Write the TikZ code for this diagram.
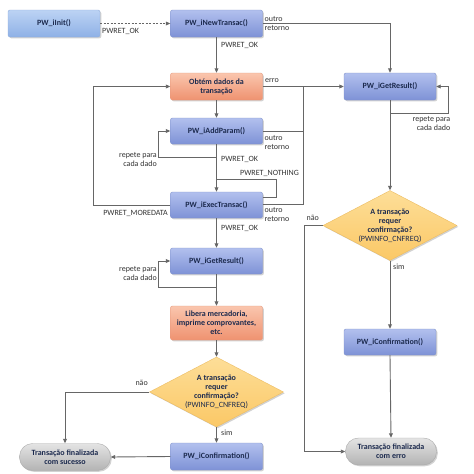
\documentclass[tikz,border=0pt]{standalone}
\usepackage{fontspec}
\setmainfont{Carlito}
\usetikzlibrary{shapes.geometric,arrows.meta,shadows}
\definecolor{navy}{HTML}{1C2A4E}
\definecolor{labc}{HTML}{333333}
\definecolor{linec}{HTML}{666666}
\definecolor{blueT}{HTML}{B2C0EE}
\definecolor{blueB}{HTML}{7E92D6}
\definecolor{blueD}{HTML}{8193CC}
\definecolor{lblueT}{HTML}{BCD3F4}
\definecolor{lblueB}{HTML}{8FB1E6}
\definecolor{lblueD}{HTML}{90AEDD}
\definecolor{orT}{HTML}{FAC6AE}
\definecolor{orB}{HTML}{EF9270}
\definecolor{orD}{HTML}{E79A7E}
\definecolor{diaT}{HTML}{FDDE98}
\definecolor{diaB}{HTML}{FBC866}
\definecolor{diaD}{HTML}{EDBD62}
\definecolor{grT}{HTML}{E4E4E4}
\definecolor{grB}{HTML}{B3B3B3}
\definecolor{grD}{HTML}{AAAAAA}
\begin{document}
\begin{tikzpicture}[x=1pt,y=-1pt,
  shad/.style={drop shadow={opacity=0.35,shadow xshift=1.3pt,shadow yshift=-1.3pt}},
  box/.style={rectangle,rounded corners=2pt,minimum width=92pt,minimum height=27pt,inner sep=1pt,
    align=center,font=\fontsize{8}{9}\selectfont\bfseries,text=navy,line width=0.4pt,shad},
  bluebox/.style={box,top color=blueT,bottom color=blueB,draw=blueD},
  lbluebox/.style={box,top color=lblueT,bottom color=lblueB,draw=lblueD},
  orbox/.style={box,top color=orT,bottom color=orB,draw=orD},
  term/.style={box,rounded corners=13pt,minimum width=91pt,minimum height=27pt,top color=grT,bottom color=grB,draw=grD},
  dia/.style={diamond,minimum width=134pt,minimum height=70pt,inner sep=0pt,top color=diaT,bottom color=diaB,draw=diaD,line width=0.4pt,shad},
  diatext/.style={align=center,font=\fontsize{8}{9}\selectfont\bfseries,text=navy,inner sep=0pt},
  lbl/.style={font=\fontsize{8}{8.6}\selectfont,text=labc,inner sep=0pt,align=left},
  conn/.style={draw=linec,line width=0.9pt},
  arr/.style={conn,-{Triangle[length=4.5pt,width=3.8pt]}}
]
\useasboundingbox[fill=white] (0,0) rectangle (474,474);

% nodes
\node[lbluebox] (init) at (54,23.5) {PW\_iInit()};
\node[bluebox] (newt) at (216.5,23.5) {PW\_iNewTransac()};
\node[orbox] (obt) at (216.5,86.5) {Obtém dados da\\transação};
\node[bluebox,minimum height=26pt] (add) at (216.5,131) {PW\_iAddParam()};
\node[bluebox,minimum height=26pt] (exec) at (216.5,205) {PW\_iExecTransac()};
\node[bluebox,minimum height=26pt] (gr1) at (216.5,261) {PW\_iGetResult()};
\node[orbox,minimum height=34pt] (lib) at (216.5,323) {Libera mercadoria,\\imprime comprovantes,\\etc.};
\node[dia] (d1) at (216.5,392) {};
\node[diatext] (d1t) at (d1.center) {A transação\\requer\\confirmação?\\\mdseries(PWINFO\_CNFREQ)};
\node[bluebox] (conf1) at (216.5,456.5) {PW\_iConfirmation()};
\node[term] (suc) at (65,457) {Transação finalizada\\com sucesso};

\node[bluebox] (gr2) at (390,86.5) {PW\_iGetResult()};
\node[dia] (d2) at (390,225.5) {};
\node[diatext] (d2t) at (d2.center) {A transação\\requer\\confirmação?\\\mdseries(PWINFO\_CNFREQ)};
\node[bluebox,minimum height=26pt] (conf2) at (390,342) {PW\_iConfirmation()};
\node[term] (err) at (391,451.5) {Transação finalizada\\com erro};

% helper coordinates
\coordinate (jx) at (303,86.5);
\coordinate (ja) at (303,131);
\coordinate (je) at (303,204);
\coordinate (cn) at (276,197);
\coordinate (cnt) at (276,179);
\coordinate (mlx) at (93,205);
\coordinate (mlt) at (93,86.5);
\coordinate (la1) at (158,157);
\coordinate (la2) at (158,287);
\coordinate (rt) at (390,23.5);
\coordinate (rl1) at (390,113);
\coordinate (rl2) at (448,113);
\coordinate (rl3) at (448,86.5);
\coordinate (n1) at (65,392);
\coordinate (n2a) at (304,225.5);
\coordinate (n2b) at (304,451.5);

% connectors
\draw[arr,dash pattern=on 2pt off 1.5pt,line width=0.7pt] (init.east) -- (newt.west);
\node[lbl,anchor=west] (lok0) at (102,31.5) {PWRET\_OK};

\draw[arr] (newt.south) -- (obt.north);
\node[lbl,anchor=west] (lok1) at (221,45) {PWRET\_OK};

\draw[arr] (newt.east) -- (rt) -- (gr2.north);
\node[lbl,anchor=west] (lout1) at (264.5,23.5) {outro\\retorno};

\draw[arr] (obt.east) -- (gr2.west);
\node[lbl,anchor=west] (lerro) at (265,81) {erro};

\draw[conn] (add.east) -- (ja) -- (jx);
\node[lbl,anchor=west] (lout2) at (264.5,142.5) {outro\\retorno};

\draw[conn] (exec.east |- je) -- (je) -- (ja);
\node[lbl,anchor=west] (lout3) at (264.5,214.5) {outro\\retorno};

\draw[arr] (obt.south) -- (add.north);

\draw[arr] (add.south |- la1) -- (la1) -- (la1 |- add.west) -- (add.west);
\node[lbl,anchor=east,align=right] (lrep1) at (157,159.5) {repete para\\cada dado};

\draw[arr] (add.south) -- (exec.north);
\node[lbl,anchor=west] (lok2) at (221,159) {PWRET\_OK};

\draw[conn] (exec.east |- cn) -- (cn) -- (cnt) -- (add.south |- cnt);
\node[lbl,anchor=west] (lnot) at (240,173) {PWRET\_NOTHING};

\draw[arr] (exec.west) -- (mlx) -- (mlt) -- (obt.west);
\node[lbl,anchor=east] (lmore) at (168,213) {PWRET\_MOREDATA};

\draw[arr] (exec.south) -- (gr1.north);
\node[lbl,anchor=west] (lok3) at (221,228) {PWRET\_OK};

\draw[arr] (gr1.south |- la2) -- (la2) -- (la2 |- gr1.west) -- (gr1.west);
\node[lbl,anchor=east,align=right] (lrep2) at (157,273.5) {repete para\\cada dado};

\draw[arr] (gr1.south) -- (lib.north);
\draw[arr] (lib.south) -- (d1.north);

\draw[arr] (d1.west) -- (n1) -- (suc.north);
\node[lbl,anchor=east] (lnao1) at (148,383) {não};

\draw[arr] (d1.south) -- (conf1.north);
\node[lbl,anchor=west] (lsim1) at (221,433) {sim};

\draw[arr] (conf1.west) -- (suc.east);

% right column
\draw[arr] (rl1) -- (rl2) -- (rl3) -- (gr2.east);
\node[lbl,anchor=east,align=right] (lrep3) at (450.5,123.5) {repete para\\cada dado};

\draw[arr] (gr2.south) -- (d2.north);

\draw[arr] (d2.west) -- (n2a) -- (n2b) -- (err.west);
\node[lbl,anchor=west] (lnao2) at (306.5,218) {não};

\draw[arr] (d2.south) -- (conf2.north);
\node[lbl,anchor=west] (lsim2) at (393,266.5) {sim};

\draw[arr] (conf2.south) -- (err.north);
\end{tikzpicture}
\end{document}
